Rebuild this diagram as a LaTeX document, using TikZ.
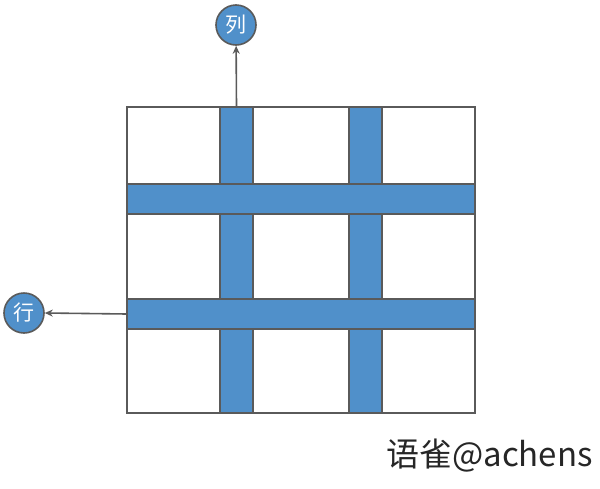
\documentclass[tikz,border=0pt]{standalone}
\usepackage{fontspec}
\newfontfamily\cjk{Noto Sans CJK SC}
\usetikzlibrary{arrows.meta}
\definecolor{barblue}{HTML}{5090CA}
\definecolor{edgegray}{HTML}{5A5A5A}
\begin{document}
\begin{tikzpicture}[x=1pt,y=-1pt,
  bar/.style={fill=barblue,draw=edgegray,line width=1.8pt},
  label/.style={circle,fill=barblue,draw=edgegray,line width=1.6pt,minimum size=40pt,inner sep=0pt,text=white,font=\cjk\fontsize{21}{21}\selectfont},
  link/.style={draw=edgegray,line width=1.6pt,-{Stealth[length=8pt,width=7pt]}}]
\useasboundingbox (0,0) rectangle (600,488);
\fill[white] (0,0) rectangle (600,488);
% outer frame
\draw[draw=edgegray,line width=1.8pt,fill=white] (127,107) rectangle (475,413);
% columns
\draw[bar] (220,107) rectangle (253,413);
\draw[bar] (349,107) rectangle (382,413);
% rows
\draw[bar] (127,184) rectangle (475,214);
\draw[bar] (127,299) rectangle (475,329);
\draw[draw=edgegray,line width=1.8pt] (127,107) rectangle (475,413);
% labels
\node[label] (col) at (236,25) {列};
\node[label] (row) at (24,313) {行};
\coordinate (coltop) at (236.5,107);
\coordinate (rowleft) at (127,314);
\draw[link] (coltop) -- (col);
\draw[link] (rowleft) -- (row.east);
\node[anchor=west,inner sep=0pt,font=\cjk\fontsize{33}{33}\selectfont,text=black!85] (wm) at (386,456) {语雀@achens};
\end{tikzpicture}
\end{document}
